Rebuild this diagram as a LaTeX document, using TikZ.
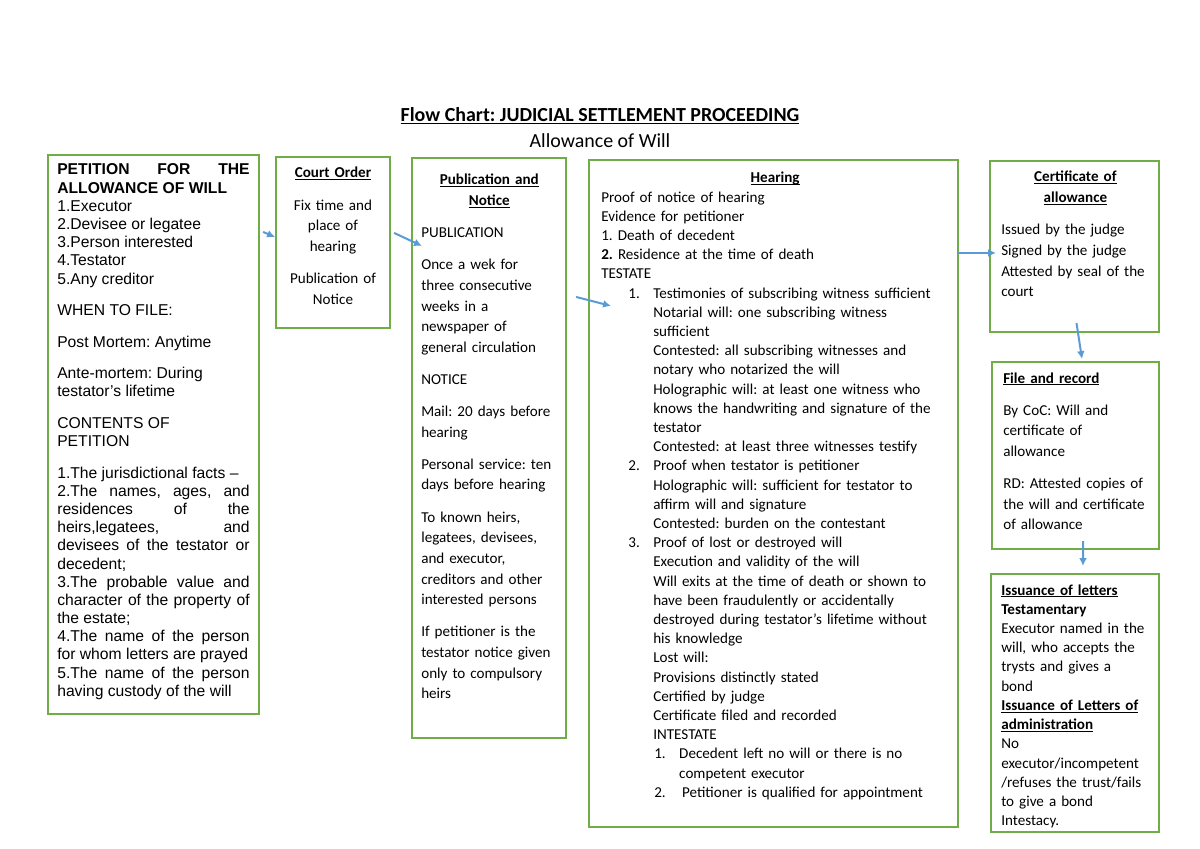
\documentclass[tikz,border=0pt]{standalone}
\usepackage{fontspec}
\setmainfont{Carlito}
\newfontfamily\arialfont{Liberation Sans}
\usepackage{tikz}
\usetikzlibrary{fit}
\usetikzlibrary{arrows.meta}
\definecolor{boxgreen}{HTML}{70AD47}
\definecolor{arrowblue}{HTML}{5B9BD5}
\hyphenpenalty=10000
\exhyphenpenalty=10000
\tolerance=10000
\frenchspacing
\tikzset{
  Frame/.style={draw=boxgreen, line width=1.5pt, inner sep=0pt}, % green boxes
  Flow/.style={draw=arrowblue, line width=1.4pt, ->}, % blue arrows
  Cal/.style={font=\fontsize{10.6}{#1}\selectfont, inner sep=0pt, align=left}, % Calibri-like text
  Ari/.style={font=\arialfont\fontsize{11}{12.75}\selectfont, inner sep=0pt, align=justify} % Arial-like text
}
\newcommand{\Ul}[1]{\setbox0\hbox{#1}\leavevmode\rlap{\rule[-1.6pt]{\wd0}{0.6pt}}\box0}
\newcommand{\Head}[1]{\makebox[\linewidth][c]{\textbf{\Ul{#1}}}}
\newcommand{\Num}[1]{\hspace*{19pt}\makebox[17.5pt][l]{#1}}
\newcommand{\Ind}{\hspace*{36.5pt}}
\newcommand{\SubNum}[1]{\hspace*{37.2pt}\makebox[17.5pt][l]{#1}}
\newcommand{\SubInd}{\hspace*{54.7pt}}

\begin{document}
\begin{tikzpicture}[
x=0.7017pt, y=-0.7017pt, % pixel grid of the page
>={Latex[length=5.5pt,width=5.5pt]} % arrow tips
]
\useasboundingbox (0,0) rectangle (1200,849);

%Title
\node[anchor=base, font=\fontsize{14}{17}\selectfont\bfseries] (Title) at (600,122) {\Ul{Flow Chart: JUDICIAL SETTLEMENT PROCEEDING}};
\node[anchor=base, font=\fontsize{14}{17}\selectfont] (Sub) at (600,148) {Allowance of Will};

%Boxes
\node[Frame, fit={(48,155) (259,714)}] (Pet) {};
\node[Frame, fit={(276,157) (390,328)}] (Court) {};
\node[Frame, fit={(412,158) (566,738)}] (Pub) {};
\node[Frame, fit={(589,160) (958,827)}] (Hear) {};
\node[Frame, fit={(990,161) (1159,332)}] (Cert) {};
\node[Frame, fit={(992,362) (1159,549)}] (Rec) {};
\node[Frame, fit={(991,574) (1159,832)}] (Iss) {};

%Texts
\node[Ari, text width=135pt, anchor=base west] (PetT) at (57,175) {%
\textbf{PETITION FOR THE\linebreak ALLOWANCE OF WILL}\\
1.Executor\\
2.Devisee or legatee\\
3.Person interested\\
4.Testator\\
5.Any creditor\\[9.4pt]
WHEN TO FILE:\\[9.4pt]
Post Mortem: Anytime\\[9.4pt]
Ante-mortem: During\\
testator’s lifetime\\[9.4pt]
CONTENTS OF\\
PETITION\\[9.4pt]
1.The jurisdictional facts –\\
2.The names, ages, and\linebreak residences of the\linebreak heirs,legatees, and\linebreak devisees of the testator or\linebreak decedent;\\
3.The probable value and\linebreak character of the property of\linebreak the estate;\\
4.The name of the person\linebreak for whom letters are prayed\\
5.The name of the person\linebreak having custody of the will};

\node[Cal=14.5, align=center, text width=70pt, anchor=base] (CourtT) at (333,178) {%
\textbf{\Ul{Court Order}}\\[8pt]
Fix time and\\ place of\\ hearing\\[8pt]
Publication of\\ Notice};

\node[Cal=14.5, text width=95.4pt, anchor=base west] (PubT) at (421,185) {%
\Head{Publication and}\\
\Head{Notice}\\[8pt]
PUBLICATION\\[8pt]
Once a wek for\\ three consecutive\\ weeks in a\\ newspaper of\\ general circulation\\[8pt]
NOTICE\\[8pt]
Mail: 20 days before\\ hearing\\[8pt]
Personal service: ten\\ days before hearing\\[8pt]
To known heirs,\\ legatees, devisees,\\ and executor,\\ creditors and other\\ interested persons\\[8pt]
If petitioner is the\\ testator notice given\\ only to compulsory\\ heirs};

\node[Cal=13.47, text width=244pt, anchor=base west] (HearT) at (601,183) {%
\Head{Hearing}\\
Proof of notice of hearing\\
Evidence for petitioner\\
1. Death of decedent\\
\textbf{2.} Residence at the time of death\\
TESTATE\\
\Num{1.}Testimonies of subscribing witness sufficient\\
\Ind Notarial will: one subscribing witness\\
\Ind sufficient\\
\Ind Contested: all subscribing witnesses and\\
\Ind notary who notarized the will\\
\Ind Holographic will: at least one witness who\\
\Ind knows the handwriting and signature of the\\
\Ind testator\\
\Ind Contested: at least three witnesses testify\\
\Num{2.}Proof when testator is petitioner\\
\Ind Holographic will: sufficient for testator to\\
\Ind affirm will and signature\\
\Ind Contested: burden on the contestant\\
\Num{3.}Proof of lost or destroyed will\\
\Ind Execution and validity of the will\\
\Ind Will exits at the time of death or shown to\\
\Ind have been fraudulently or accidentally\\
\Ind destroyed during testator’s lifetime without\\
\Ind his knowledge\\
\Ind Lost will:\\
\Ind Provisions distinctly stated\\
\Ind Certified by judge\\
\Ind Certificate filed and recorded\\
\Ind INTESTATE\\
\SubNum{1.}Decedent left no will or there is no\\
\SubInd competent executor\\
\SubNum{2.}\hspace{2pt}Petitioner is qualified for appointment};

\node[Cal=14.5, text width=104pt, anchor=base west] (CertT) at (1001,182) {%
\Head{Certificate of}\\
\Head{allowance}\\[8pt]
Issued by the judge\\ Signed by the judge\\ Attested by seal of the\\ court};

\node[Cal=14.5, text width=103pt, anchor=base west] (RecT) at (1003,383) {%
\textbf{\Ul{File and record}}\\[8pt]
By CoC: Will and\\ certificate of\\ allowance\\[8pt]
RD: Attested copies of\\ the will and certificate\\ of allowance};

\node[Cal=13.5, text width=105pt, anchor=base west] (IssT) at (1001,595) {%
\textbf{\Ul{Issuance of letters}}\\
\textbf{Testamentary}\\
Executor named in the\\ will, who accepts the\\ trysts and gives a\\ bond\\
\textbf{\Ul{Issuance of Letters of}}\\
\textbf{\Ul{administration}}\\
No\\ executor/incompetent\\ /refuses the trust/fails\\ to give a bond\\ Intestacy.};

%Arrows
\draw[Flow] ([shift={(3,78)}]Pet.north east) -- ([shift={(0,81)}]Court.north west);
\draw[Flow] ([shift={(3,77)}]Court.north east) -- ([shift={(11,89)}]Pub.north west);
\draw[Flow] ([shift={(9,140)}]Pub.north east) -- ([shift={(23,147)}]Hear.north west);
\draw[Flow] ([shift={(-1,94)}]Hear.north east) -- ([shift={(7,93)}]Cert.north west);
\draw[Flow] ([shift={(2,-10)}]Cert.south) -- ([shift={(6.5,-2)}]Rec.north);
\draw[Flow] ([shift={(7.5,-9)}]Rec.south) -- ([shift={(8,-7)}]Iss.north);

\end{tikzpicture}
\end{document}
